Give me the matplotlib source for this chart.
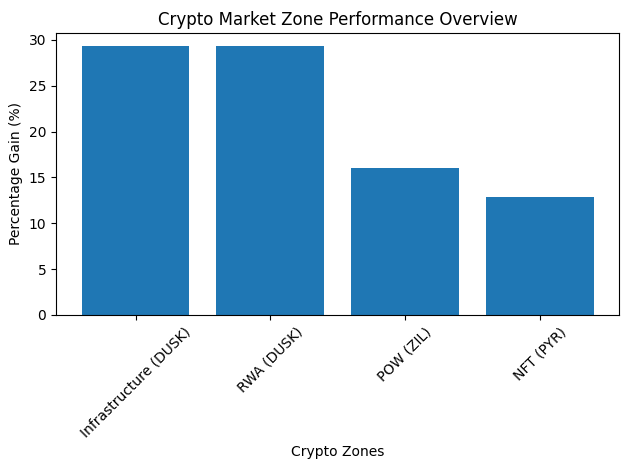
import matplotlib
matplotlib.use('Agg')
import matplotlib.pyplot as plt

# Zone names and percentage gains
zones = ['Infrastructure (DUSK)', 'RWA (DUSK)', 'POW (ZIL)', 'NFT (PYR)']
gains = [29.3, 29.3, 16.0, 12.85]

fig, ax = plt.subplots(figsize=(6.3, 4.7), dpi=100)
ax.bar(zones, gains, color='#1f77b4')
ax.set_title('Crypto Market Zone Performance Overview')
ax.set_xlabel('Crypto Zones')
ax.set_ylabel('Percentage Gain (%)')
plt.xticks(rotation=45)
fig.subplots_adjust(left=0.089, right=0.983, bottom=0.33, top=0.930)
plt.savefig('out.png')
